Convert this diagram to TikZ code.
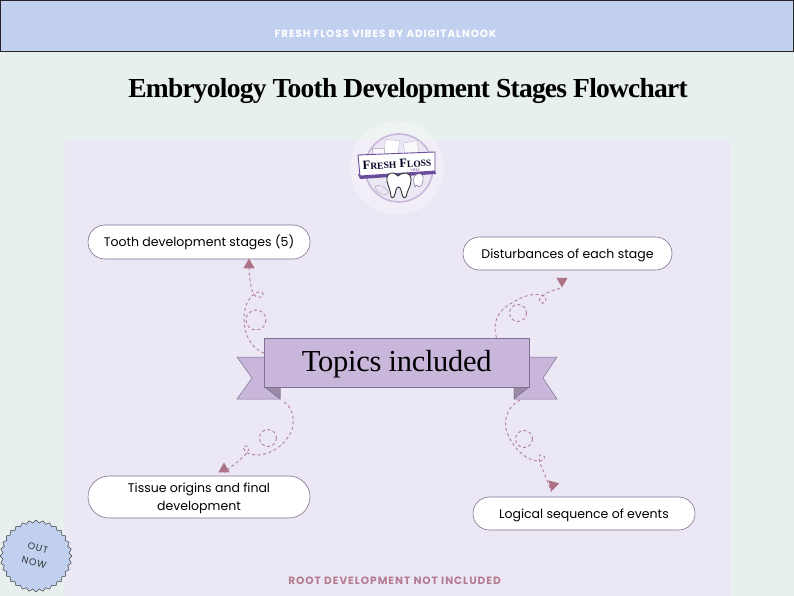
\documentclass[tikz,border=0pt]{standalone}
\usepackage{fontspec}
\usepackage{xcolor}
\usetikzlibrary{shapes.geometric,shapes.misc}
\setmainfont{Liberation Serif}
\newfontfamily\pillfont{Poppins}
\newfontfamily\capsfont[LetterSpace=9]{Poppins}
\newfontfamily\titlefont[LetterSpace=-2.8]{Liberation Serif}
\newfontfamily\bannerfont[LetterSpace=-1]{Liberation Serif}
\newcommand{\pillstrut}{\rule{0pt}{13pt}}
\definecolor{pagebg}{HTML}{E7F0EE}
\definecolor{panelbg}{HTML}{ECE7F4}
\definecolor{headbg}{HTML}{C0D0EE}
\definecolor{ribbon}{HTML}{C9B6DB}
\definecolor{ribbonedge}{HTML}{7F7190}
\definecolor{ribbonfold}{HTML}{9A8AA6}
\definecolor{dashrose}{HTML}{B0809A}
\definecolor{tiprose}{HTML}{AB7385}
\definecolor{noterose}{HTML}{B47C90}
\definecolor{logoviolet}{HTML}{6A4C9C}
\tikzset{
	pillbox/.style={draw=ribbonedge, line width=0.6pt, fill=white, rounded rectangle, inner sep=0pt, align=center, font=\pillfont\fontsize{12.5}{18}\selectfont},
	flowline/.style={draw=dashrose, line width=0.9pt, dash pattern=on 3pt off 2.6pt},
	flowtip/.style={regular polygon, regular polygon sides=3, fill=tiprose, inner sep=0pt, minimum size=13pt},
}
\begin{document}
\begin{tikzpicture}[x=1pt, y=-1pt]
	\useasboundingbox (0,0) rectangle (794,596);
	\fill[pagebg] (0,0) rectangle (794,596);
	\fill[panelbg] (65,140) rectangle (730,596);
	\node[draw=black!85, line width=0.7pt, fill=headbg, minimum width=793pt, minimum height=51pt, inner sep=0pt] (header) at (397,25.5) {};
	\node[inner sep=0pt, text=white, font=\capsfont\bfseries\fontsize{10.4}{12}\selectfont] (headtext) at (385.5,34) {FRESH FLOSS VIBES BY ADIGITALNOOK};
	\node[font=\titlefont\bfseries\fontsize{27.5}{32}\selectfont, inner sep=0pt] (title) at (408,91) {Embryology Tooth Development Stages Flowchart};
	% logo
	\fill[white, opacity=0.3] (397,168) circle (47);
	\fill[white] (399,168) circle (35);
	\draw[ribbon, line width=1.6pt, fill=panelbg] (399,168) circle (34);
	\draw[ribbonedge!50, fill=white, rotate around={-6:(391,145)}] (385,140) rectangle (399,158);
	\draw[ribbonedge!50, fill=white!90!ribbon, rotate around={10:(410,148)}] (404,142) rectangle (418,158);
	\draw[ribbonedge!50, fill=white!90!ribbon] (372,148) rectangle (384,158);
	\draw[ribbonedge!60, line width=0.5pt] (375,187) .. controls (378,183) and (387,187) .. (389,193) .. controls (384,197) and (376,193) .. (375,187) -- cycle;
	\fill[logoviolet] (358,174) -- (360,179) -- (436,174) -- (435,170) -- cycle;
	\draw[logoviolet, line width=0.9pt, fill=white] (358,155) -- (435,152) -- (435,171) -- (360,176) -- cycle;
	\node[rotate=3, inner sep=0pt, font=\fontsize{12.5}{13}\selectfont\bfseries, text=black!85!blue] (logoname) at (397,164) {F{\fontsize{9.5}{13}\selectfont RESH} F{\fontsize{9.5}{13}\selectfont LOSS}};
	\node[rotate=3, inner sep=0pt, font=\pillfont\fontsize{3.5}{4}\selectfont, text=logoviolet] (logovibes) at (415,170) {VIBES};
	\draw[ribbonedge, line width=0.5pt, fill=white] (418,174) .. controls (421,173) and (424,175) .. (423,180) .. controls (422,185) and (421,187) .. (419,187) .. controls (417,186) and (417,183) .. (415,187) .. controls (414,182) and (411,176) .. (418,174) -- cycle;
	\draw[black!80, line width=0.9pt, fill=white] (398,176) .. controls (392,170) and (386,173) .. (387,181) .. controls (388,187) and (391,190) .. (391,197) .. controls (394,200) and (395,194) .. (396,190) .. controls (397,186) and (400,186) .. (401,190) .. controls (402,194) and (403,200) .. (406,197) .. controls (407,190) and (411,187) .. (411,180) .. controls (411,172) and (404,171) .. (398,176) -- cycle;
	% banner
	\draw[ribbonedge, line width=0.5pt, fill=ribbon] (237,357) -- (280,357) -- (280,399) -- (237,399) -- (252,378) -- cycle;
	\draw[ribbonedge, line width=0.5pt, fill=ribbon] (557,357) -- (514,357) -- (514,399) -- (557,399) -- (543,378) -- cycle;
	\draw[ribbonedge, line width=0.5pt, fill=ribbonfold] (264.5,387) -- (280,399) -- (280,387) -- cycle;
	\draw[ribbonedge, line width=0.5pt, fill=ribbonfold] (529,387) -- (514,399) -- (514,387) -- cycle;
	\node[draw=ribbonedge, line width=0.7pt, fill=ribbon, minimum width=264.5pt, minimum height=49pt, inner sep=0pt, font=\bannerfont\fontsize{30.5}{36}\selectfont] (banner) at (396.75,362.5) {\rule{0pt}{25pt}Topics included};
	% boxes
	\node[pillbox, minimum width=222pt, minimum height=34pt] (stages) at (199,242) {\pillstrut Tooth development stages (5)};
	\node[pillbox, minimum width=209pt, minimum height=33pt] (disturb) at (567.5,253.5) {\pillstrut Disturbances of each stage};
	\node[pillbox, minimum width=222pt, minimum height=42pt] (origins) at (199,497) {\pillstrut Tissue origins and final\\development};
	\node[pillbox, minimum width=222pt, minimum height=33pt] (sequence) at (584,513.5) {\pillstrut Logical sequence of events};
	% arrow heads
	\node[flowtip] (tipa) at (249,265) {};
	\node[flowtip, rotate=180] (tipb) at (562,281) {};
	\node[flowtip] (tipc) at (224,469) {};
	\node[flowtip, rotate=165] (tipd) at (553,485) {};
	\coordinate (startc) at (284,402);
	\coordinate (startd) at (520,400);
	% dashed connectors
	\draw[flowline] (banner.176) .. controls (251,348) and (244,335) .. (244,318) .. controls (244,305) and (250,295) .. (258,292) .. controls (266,290) and (264,299) .. (257,297) .. controls (252,295) and (250,285) .. (tipa.south);
	\draw[flowline] (banner.14) .. controls (492,322) and (498,310) .. (512,303) .. controls (522,296) and (535,292) .. (544,296) .. controls (549,300) and (544,306) .. (540,302) .. controls (537,297) and (548,291) .. (tipb.north);
	\draw[flowline] (startc) .. controls (295,408) and (296,428) .. (288,437) .. controls (280,450) and (262,458) .. (250,454) .. controls (242,452) and (242,444) .. (247,446) .. controls (252,449) and (247,455) .. (tipc.south);
	\draw[flowline] (startd) .. controls (505,408) and (502,425) .. (509,437) .. controls (515,450) and (528,462) .. (540,461) .. controls (547,460) and (545,453) .. (540,455) .. controls (536,459) and (544,470) .. (tipd.north);
	\draw[flowline] (256,320) circle (10);
	\draw[flowline] (518,313) circle (8.5);
	\draw[flowline] (268,438) circle (8.5);
	\draw[flowline] (524,439) circle (8.5);
	% footer
	\node[inner sep=0pt, text=noterose, font=\capsfont\bfseries\fontsize{10.6}{12}\selectfont] (note) at (394.5,581) {ROOT DEVELOPMENT NOT INCLUDED};
	\draw[black!75, line width=0.5pt, fill=headbg] plot[smooth cycle, samples=128, domain=0:357.1875] ({36+(34.5+1.4*cos(32*\x))*cos(\x)}, {556+(34.5+1.4*cos(32*\x))*sin(\x)});
	\node[rotate=-15, align=center, inner sep=0pt, text=black!80, font=\capsfont\fontsize{9.5}{15}\selectfont] (outnow) at (36,555) {OUT\\NOW};
\end{tikzpicture}
\end{document}
